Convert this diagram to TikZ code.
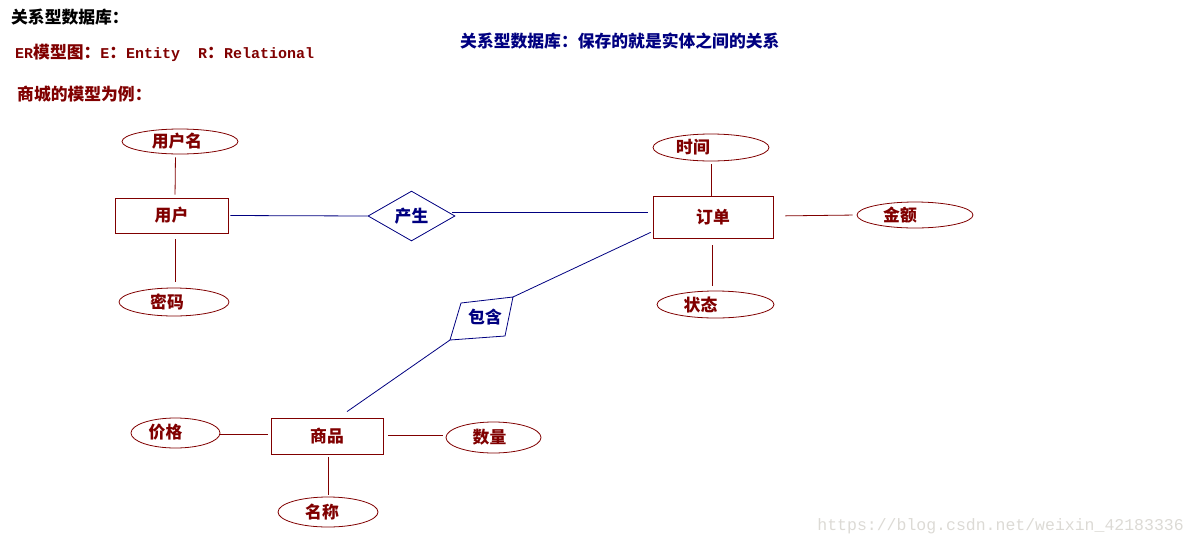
\documentclass[tikz,border=0pt]{standalone}
\usepackage{fontspec}
\setmainfont{Noto Sans CJK SC}
\newfontfamily\monofont{Liberation Mono}
\usetikzlibrary{shapes.geometric, positioning, calc}
\definecolor{erred}{HTML}{800000}
\definecolor{erblue}{HTML}{000080}
\definecolor{markgray}{HTML}{DCDAD5}
\newcommand{\mo}[1]{{\monofont\fontsize{15}{18}\selectfont\bfseries #1}}

\begin{document}
\begin{tikzpicture}[x=1pt, y=-1pt, font=\fontsize{16.8}{18}\selectfont\bfseries]
\tikzstyle{entity} = [rectangle, draw=erred, text=erred, inner sep=0pt, line width=0.8pt]
\tikzstyle{attr} = [ellipse, draw=erred, inner sep=0pt, line width=0.8pt]
\tikzstyle{relation} = [diamond, draw=erblue, text=erblue, inner sep=0pt, line width=0.8pt]
\tikzstyle{attrline} = [draw=erred, line width=0.8pt]
\tikzstyle{relline} = [draw=erblue, line width=0.8pt]
\tikzset{every label/.style={text=erred, inner sep=0pt}}

\useasboundingbox (0,0) rectangle (1195,547);

% headings
\node (title) [anchor=west, inner sep=0pt] at (11,17) {关系型数据库：};
\node (er) [anchor=west, inner sep=0pt, text=erred] at (15,53) {\mo{ER}模型图：\mo{E}：\mo{Entity\ \ R}：\mo{Relational}};
\node (shop) [anchor=west, inner sep=0pt, text=erred] at (17,94) {商城的模型为例：};
\node (note) [anchor=west, inner sep=0pt, text=erblue] at (460,41) {关系型数据库：保存的就是实体之间的关系};

% entities
\node (yonghu) [entity, minimum width=113, minimum height=35] at (171.5,215.5) {用户};
\node (dingdan) [entity, minimum width=120, minimum height=42] at (713,217) {订单};
\node (shangpin) [entity, minimum width=112, minimum height=36] at (327,436) {商品};

% attributes
\node (yonghuming) [attr, minimum width=116, minimum height=25, label={[xshift=-3pt]center:用户名}] at (180,141.5) {};
\node (mima) [attr, minimum width=110, minimum height=28, label={[xshift=-7pt]center:密码}] at (174,302) {};
\node (shijian) [attr, minimum width=116, minimum height=27, label={[xshift=-18pt]center:时间}] at (711,147.5) {};
\node (jine) [attr, minimum width=116, minimum height=26, label={[xshift=-15pt]center:金额}] at (915,215) {};
\node (zhuangtai) [attr, minimum width=117, minimum height=27, label={[xshift=-15pt]center:状态}] at (715.5,304.5) {};
\node (jiage) [attr, minimum width=89, minimum height=30, label={[xshift=-10pt, yshift=1pt]center:价格}] at (175.5,433) {};
\node (shuliang) [attr, minimum width=95, minimum height=31, label={[xshift=-4pt]center:数量}] at (493.5,437.5) {};
\node (mingcheng) [attr, minimum width=100, minimum height=30, label={[xshift=-6pt]center:名称}] at (328,512) {};

% relations
\node (chansheng) [relation, minimum width=87, minimum height=44] at (411.5,216) {产生};
\node (baohan) [text=erblue, inner sep=0pt] at (485,317) {包含};
\coordinate (bh-tl) at ($(baohan)+(-24,-14)$);
\coordinate (bh-tr) at ($(baohan)+(28,-20)$);
\coordinate (bh-br) at ($(baohan)+(20,19)$);
\coordinate (bh-bl) at ($(baohan)+(-35,23)$);
\draw[relline] (bh-tl) -- (bh-tr) -- (bh-br) -- (bh-bl) -- cycle;

% attribute links
\draw[attrline, shorten <=3pt, shorten >=3pt] ($(yonghu.north)+(3.5,0)$) -- ($(yonghuming.south)+(-4.5,0)$);
\draw[attrline, shorten <=6pt, shorten >=6pt] ($(yonghu.south)+(3.5,0)$) -- ($(mima.north)+(1,0)$);
\draw[attrline, shorten >=3pt] ($(dingdan.north)+(-2,0)$) -- (shijian.south);
\draw[attrline, shorten <=12pt, shorten >=4pt] ($(dingdan.east)+(0,-1)$) -- (jine.west);
\draw[attrline, shorten <=7pt, shorten >=5pt] ($(dingdan.south)+(-1,0)$) -- ($(zhuangtai.north)+(-3.5,0)$);
\draw[attrline, shorten >=3pt] ($(jiage.east)+(0,1)$) -- ($(shangpin.west)+(0,-2)$);
\draw[attrline, shorten <=5pt, shorten >=3pt] ($(shangpin.east)+(0,-1)$) -- ($(shuliang.west)+(0,-2.5)$);
\draw[attrline, shorten <=3pt, shorten >=2pt] ($(shangpin.south)+(1,0)$) -- (mingcheng.north);

% relation links
\draw[relline, shorten <=2pt] (yonghu.east) -- (chansheng.west);
\draw[relline, shorten >=5pt] ($(chansheng.east)+(-3,-4)$) -- ($(dingdan.west)+(0,-5)$);
\draw[relline] ($(dingdan.south west)+(-2,-6)$) -- (bh-tr);
\draw[relline] (bh-bl) -- ($(shangpin.north)+(20,-6)$);

% watermark
\node (mark) [anchor=east, inner sep=0pt, text=markgray, font=\fontsize{16.5}{18}\monofont] at (1184,526) {https://blog.csdn.net/weixin\_42183336};
\end{tikzpicture}
\end{document}
